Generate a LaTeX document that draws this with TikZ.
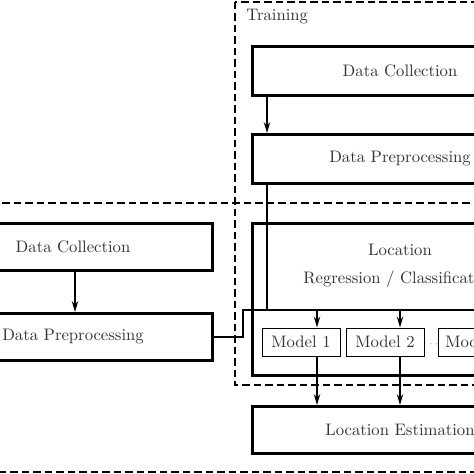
\documentclass[tikz,border=0pt]{standalone}
\usepackage{tikz}
\usetikzlibrary{arrows.meta}

\begin{document}
\begin{tikzpicture}[x=0.6pt,y=-0.6pt,
        block/.style={draw, line width=1.8pt, minimum width=177pt, minimum height=29.4pt, text=black!80},
        leftblock/.style={block, minimum width=166.8pt, minimum height=28.2pt},
        model/.style={draw, line width=0.6pt, minimum width=46.8pt, minimum height=16.8pt, inner sep=0pt, text=black!80},
        group/.style={draw, line width=1.2pt, dash pattern=on 4.5pt off 2.4pt},
        link/.style={line width=1pt},
        arrow/.style={link, -{Stealth[length=6.5pt,width=3.8pt]}}]
        % Frame
        \useasboundingbox (0,0) rectangle (474,474);
        \clip (0,0) rectangle (474,474);

        % Draw dashed groups
        \draw[group] (235,1.5) rectangle (600,385);
        \draw[group] (-100,203) rectangle (600,472);
        \node[anchor=west, inner sep=0pt, text=black!80] (train) at (246,17) {Training};

        % Training side
        \node[block] (dcR) at (400,71) {Data Collection};
        \node[block] (dpR) at (400,159) {Data Preprocessing};
        \node[block, minimum height=91.2pt] (loc) at (400,299.5) {};
        \node[text=black!80] (locA) at (400,250) {Location};
        \node[text=black!80] (locB) at (400,279) {Regression / Classification};
        \node[model] (m1) at (301,342) {Model 1};
        \node[model] (m2) at (385,342) {Model 2};
        \node[model] (m3) at (477,342) {Model N};
        \node[font=\tiny, text=black!80, inner sep=0pt] (dots) at (431,344) {$\cdots$};

        % Estimation side
        \node[leftblock] (dcL) at (73,247) {Data Collection};
        \node[leftblock] (dpL) at (73,337) {Data Preprocessing};
        \node[block, minimum height=28.2pt] (est) at (400,430) {Location Estimation};

        % Draw connectors
        \coordinate (tapR) at (267,0);
        \coordinate (tapL) at (75,0);
        \coordinate (bus) at (243,310);
        \coordinate (busEnd) at (560,310);
        \coordinate (x1) at (317,0);
        \coordinate (x2) at (400,0);
        \draw[arrow] (dcR.south -| tapR) -- (dpR.north -| tapR);
        \draw[arrow] (dcL.south -| tapL) -- (dpL.north -| tapL);
        \draw[link] (dpR.south -| tapR) -- (bus -| tapR);
        \draw[link] (dpL.east) -| (bus) -- (busEnd);
        \draw[arrow] (bus -| x1) -- (m1.north -| x1);
        \draw[arrow] (bus -| x2) -- (m2.north -| x2);
        \draw[arrow] (m1.south -| x1) -- (est.north -| x1);
        \draw[arrow] (m2.south -| x2) -- (est.north -| x2);
    \end{tikzpicture}
\end{document}
